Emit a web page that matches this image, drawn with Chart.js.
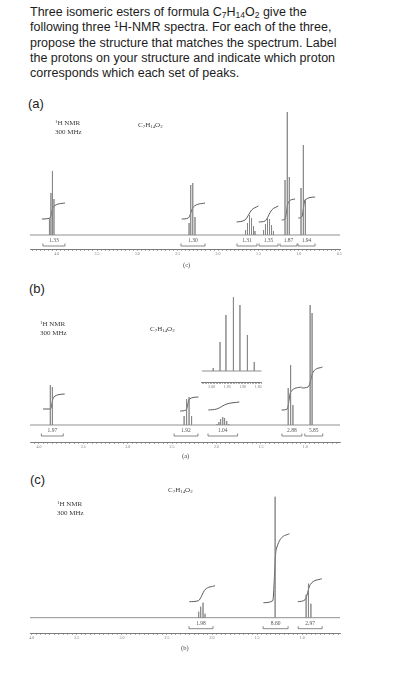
<!DOCTYPE html>
<html>
<head>
<meta charset="utf-8">
<script src="https://cdn.jsdelivr.net/npm/chart.js@4.4.1/dist/chart.umd.min.js"></script>
<style>
  body { margin: 0; width: 394px; height: 700px; background: #fff; position: relative; overflow: hidden; }
  .abs { position: absolute; white-space: nowrap; }
  #question { left: 30px; top: 5px; font: 12.5px/15.3px "Liberation Sans", Arial, sans-serif; color: #1c1c1c; }
  #question sub, #question sup { font-size: 0.68em; line-height: 0; }
  #question sub { vertical-align: -0.25em; }
  #question sup { vertical-align: 0.45em; }
  .part { font: 13px/15px "Liberation Sans", Arial, sans-serif; color: #1c1c1c; }
  .nmr { font: 7px/8.5px "Liberation Serif", serif; color: #3a3a3a; }
  .nmr sub, .nmr sup { font-size: 0.7em; line-height: 0; }
  .nmr sub { vertical-align: -0.25em; }
  .nmr sup { vertical-align: 0.5em; }
  .cap { font: 6.5px/7px "Liberation Serif", serif; color: #444; }
  canvas { position: absolute; left: 0; }
</style>
</head>
<body>
<div id="question" class="abs">Three isomeric esters of formula C<sub>7</sub>H<sub>14</sub>O<sub>2</sub> give the<br>following three <sup>1</sup>H-NMR spectra. For each of the three,<br>propose the structure that matches the spectrum. Label<br>the protons on your structure and indicate which proton<br>corresponds which each set of peaks.</div>

<div class="abs part" style="left:28px;top:96px">(a)</div>
<div class="abs part" style="left:29px;top:281px">(b)</div>
<div class="abs part" style="left:30px;top:472px">(c)</div>

<canvas id="specA" width="394" height="160" style="top:100px;width:394px;height:160px"></canvas>
<canvas id="specB" width="394" height="158" style="top:295px;width:394px;height:158px"></canvas>
<canvas id="specInset" width="75" height="105" style="left:195px;top:290px;width:75px;height:105px"></canvas>
<canvas id="specC" width="394" height="159" style="top:485px;width:394px;height:159px"></canvas>

<div class="abs nmr" style="left:55px;top:119px"><sup>1</sup>H NMR<br>300 MHz</div>
<div class="abs nmr" style="left:138px;top:121px">C<sub>7</sub>H<sub>14</sub>O<sub>2</sub></div>
<div class="abs nmr" style="left:40px;top:320px"><sup>1</sup>H NMR<br>300 MHz</div>
<div class="abs nmr" style="left:150px;top:325px">C<sub>7</sub>H<sub>14</sub>O<sub>2</sub></div>
<div class="abs nmr" style="left:168px;top:486px">C<sub>7</sub>H<sub>14</sub>O<sub>2</sub></div>
<div class="abs nmr" style="left:57px;top:500px"><sup>1</sup>H NMR<br>300 MHz</div>

<div class="abs cap" style="left:183px;top:261px">(c)</div>
<div class="abs cap" style="left:182px;top:452px">(a)</div>
<div class="abs cap" style="left:181px;top:644px">(b)</div>

<script>
// SPECTRUM (a) - captioned (c)
const rangeA = [4.33, 0.49];
const majorTicksA = [4.0, 3.5, 3.0, 2.5, 2.0, 1.5, 1.0, 0.5];
const ppmA = [4.089, 4.071, 4.052, 4.033, 2.360, 2.339, 2.314, 2.286,
  1.660, 1.636, 1.611, 1.586, 1.561, 1.543, 1.437, 1.413, 1.388, 1.363, 1.338, 1.314,
  1.171, 1.143, 1.118, 0.973, 0.944, 0.919];
const heightA = [16, 42, 64, 36, 12, 50, 52, 18,
  5, 12, 20, 17, 9, 4, 5, 11, 18, 16, 10, 4,
  55, 123, 58, 47, 90, 36];
const integralsA = [
  [[4.182, 16], [4.083, 17], [4.042, 28], [3.897, 32]],
  [[2.451, 16], [2.369, 17], [2.307, 28], [2.162, 32]],
  [[1.770, 13], [1.667, 15], [1.584, 25], [1.502, 29]],
  [[1.495, 13], [1.419, 14], [1.336, 25], [1.254, 29]],
  [[1.212, 15], [1.171, 16], [1.130, 33], [1.047, 36]],
  [[1.006, 17], [0.964, 18], [0.923, 35], [0.799, 38]]
];
const bracketFromA = [4.170, 2.460, 1.766, 1.493, 1.233, 1.010];
const bracketToA = [3.897, 2.162, 1.518, 1.258, 1.022, 0.799];
const bracketLabelA = ['1.33', '1.30', '1.31', '1.35', '1.87', '1.94'];

// SPECTRUM (b) - captioned (a)
const rangeB = [4.10, 0.61];
const majorTicksB = [4.0, 3.5, 3.0, 2.5, 2.0, 1.5, 1.0];
const ppmB = [3.871, 3.848, 2.365, 2.337, 2.309, 2.281,
  1.995, 1.973, 1.954, 1.930, 1.909, 1.885, 1.863,
  1.193, 1.166, 1.140, 0.946, 0.924];
const heightB = [40, 38, 9, 26, 28, 9,
  1, 3, 6, 8, 7, 4, 1,
  37, 60, 20, 120, 112];
const integralsB = [
  [[3.953, 16], [3.871, 16], [3.834, 28], [3.710, 31]],
  [[2.410, 14], [2.343, 15], [2.306, 26], [2.204, 28]],
  [[2.092, 15], [1.998, 16], [1.885, 21], [1.744, 23]],
  [[1.267, 15], [1.204, 16], [1.166, 33], [1.043, 38]],
  [[1.043, 37], [0.969, 38], [0.912, 53], [0.807, 58]]
];
const bracketFromB = [3.972, 2.478, 2.096, 1.264, 1.006];
const bracketToB = [3.725, 2.209, 1.763, 1.039, 0.804];
const bracketLabelB = ['1.97', '1.92', '1.04', '2.88', '5.85'];

// INSET - expansion of the 1.93 multiplet
const rangeInset = [2.032, 1.839];
const majorTicksInset = [2.00, 1.95, 1.90, 1.85];
const ppmInset = [1.995, 1.973, 1.954, 1.930, 1.909, 1.885, 1.863];
const heightInset = [3, 29, 56, 74, 66, 36, 9];

// SPECTRUM (c) - captioned (b)
const rangeC = [4.02, 0.58];
const majorTicksC = [4.0, 3.5, 3.0, 2.5, 2.0, 1.5, 1.0];
const ppmC = [2.148, 2.126, 2.100, 2.078, 1.300, 0.956, 0.930, 0.903];
const heightC = [6, 11, 15, 4, 121, 23, 34, 14];
const integralsC = [
  [[2.252, 16], [2.152, 17], [2.078, 28], [1.967, 32]],
  [[1.430, 15], [1.326, 17], [1.289, 68], [1.141, 84]],
  [[1.048, 16], [0.967, 18], [0.911, 33], [0.781, 39]]
];
const bracketFromC = [2.256, 1.433, 1.044];
const bracketToC = [1.989, 1.156, 0.778];
const bracketLabelC = ['1.98', '8.60', '2.97'];

// INTEGRAL BRACKETS under each group of peaks
const bracketPlugin = {
  id: 'brackets',
  afterDatasetsDraw(chart, args, o) {
    if (!o.from) return;
    const { ctx } = chart;
    const x = chart.scales.x, y = chart.scales.y;
    ctx.save();
    ctx.strokeStyle = '#6a6a6a';
    ctx.lineWidth = 0.8;
    ctx.fillStyle = '#555';
    ctx.font = '5.5px "Liberation Serif"';
    ctx.textAlign = 'center';
    ctx.textBaseline = 'middle';
    o.from.forEach((f, i) => {
      const x0 = x.getPixelForValue(f), x1 = x.getPixelForValue(o.to[i]);
      const yb = y.getPixelForValue(o.y), yt = y.getPixelForValue(o.y + 2.5);
      ctx.beginPath();
      ctx.moveTo(x0, yt); ctx.lineTo(x0, yb); ctx.lineTo(x1, yb); ctx.lineTo(x1, yt);
      ctx.stroke();
      ctx.fillText(o.labels[i], (x0 + x1) / 2, y.getPixelForValue(o.labelY));
    });
    ctx.restore();
  }
};

function drawSpectrum(id, o) {
  // baseline with one vertical stick per line of the multiplets
  const pts = [{ x: o.range[0], y: 0 }];
  o.ppm.forEach((p, i) => {
    pts.push({ x: p, y: 0 }, { x: p, y: o.height[i] }, { x: p, y: 0 });
  });
  pts.push({ x: o.range[1], y: 0 });

  const datasets = [{ data: pts, borderColor: '#858585', borderWidth: 0.9, pointRadius: 0 }];
  (o.integrals || []).forEach(c => {
    datasets.push({
      data: c.map(([px, py]) => ({ x: px, y: py })),
      borderColor: '#4a4a4a', borderWidth: 0.9, pointRadius: 0,
      cubicInterpolationMode: 'monotone'
    });
  });

  return new Chart(document.getElementById(id), {
    type: 'line',
    data: { datasets },
    options: {
      responsive: false,
      animation: false,
      events: [],
      layout: { padding: o.pad },
      plugins: {
        legend: { display: false },
        tooltip: { enabled: false },
        brackets: o.brackets || {}
      },
      scales: {
        x: {
          type: 'linear',
          reverse: true,
          min: o.range[1],
          max: o.range[0],
          afterFit: s => { s.height = o.axisH; },
          border: { color: '#5a5a5a', width: 0.8 },
          grid: { drawOnChartArea: false, tickLength: 2, color: '#777', lineWidth: 0.6 },
          ticks: {
            stepSize: o.step,
            includeBounds: false,
            autoSkip: false,
            maxRotation: 0,
            padding: 1,
            color: '#777',
            font: { family: 'Liberation Serif', size: 4 },
            callback: v => {
              const m = o.major.find(t => Math.abs(t - v) < 1e-6);
              return m === undefined ? '' : m.toFixed(o.digits);
            }
          }
        },
        y: { display: false, min: o.yRange[0], max: o.yRange[1] }
      }
    },
    plugins: [bracketPlugin]
  });
}

drawSpectrum('specA', {
  range: rangeA, major: majorTicksA, ppm: ppmA, height: heightA, integrals: integralsA,
  step: 0.05, digits: 1, yRange: [-14, 130], axisH: 10,
  pad: { left: 30, right: 54, top: 5, bottom: 1 },
  brackets: { from: bracketFromA, to: bracketToA, labels: bracketLabelA, y: -11, labelY: -5.5 }
});

drawSpectrum('specB', {
  range: rangeB, major: majorTicksB, ppm: ppmB, height: heightB, integrals: integralsB,
  step: 0.05, digits: 1, yRange: [-17, 125], axisH: 10,
  pad: { left: 30, right: 54, top: 5, bottom: 1 },
  brackets: { from: bracketFromB, to: bracketToB, labels: bracketLabelB, y: -11, labelY: -5.7 }
});

drawSpectrum('specInset', {
  range: rangeInset, major: majorTicksInset, ppm: ppmInset, height: heightInset,
  step: 0.005, digits: 2, yRange: [-11, 76], axisH: 8,
  pad: { left: 6.7, right: 8.3, top: 5, bottom: 5 }
});

drawSpectrum('specC', {
  range: rangeC, major: majorTicksC, ppm: ppmC, height: heightC, integrals: integralsC,
  step: 0.05, digits: 1, yRange: [-15.3, 127.7], axisH: 10,
  pad: { left: 30, right: 54, top: 5, bottom: 1 },
  brackets: { from: bracketFromC, to: bracketToC, labels: bracketLabelC, y: -11, labelY: -6 }
});
</script>
</body>
</html>
